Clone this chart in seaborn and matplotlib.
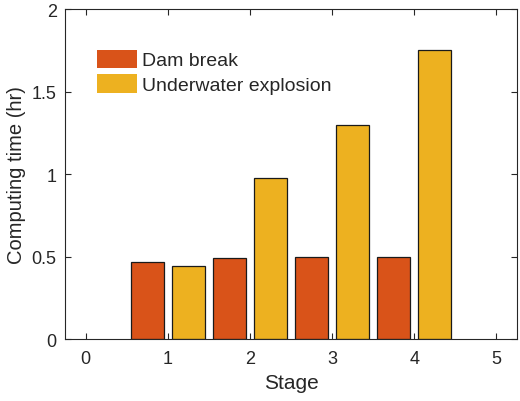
import matplotlib
matplotlib.use('Agg')
import matplotlib.pyplot as plt
import seaborn as sns
import pandas as pd

# Dados
stages = [1, 2, 3, 4]
dam_break = [0.468, 0.489, 0.495, 0.495]
underwater = [0.444, 0.978, 1.30, 1.753]
cases = ['Dam break', 'Underwater explosion']
cores = ['#D95319', '#EDB120']

df = pd.DataFrame({
    'Stage': stages * 2,
    'Time': dam_break + underwater,
    'Case': [cases[0]] * len(stages) + [cases[1]] * len(stages),
})

sns.set_style('white')
plt.rcParams['font.family'] = ['Liberation Sans', 'DejaVu Sans']

fig = plt.figure(figsize=(5.2, 4.02), dpi=100)
ax = fig.add_axes([0.125, 0.154, 0.869, 0.821])

sns.barplot(data=df, x='Stage', y='Time', hue='Case', hue_order=cases,
            palette=cores, native_scale=True, width=1.0, gap=0.2,
            edgecolor='#1a1a1a', linewidth=0.9, saturation=1, ax=ax,
            errorbar=None)

ax.set_xlim(-0.25, 5.25)
ax.set_ylim(0, 2)
ax.set_xticks(range(0, 6))
ax.set_yticks([0, 0.5, 1, 1.5, 2])
ax.set_yticklabels(['0', '0.5', '1', '1.5', '2'])
ax.set_xlabel('Stage', fontsize=15, color='#262626')
ax.set_ylabel('Computing time (hr)', fontsize=14.5, color='#262626')

for s in ax.spines.values():
    s.set_color('#262626')
    s.set_linewidth(0.8)
ax.tick_params(direction='in', length=4, width=0.8, color='#262626',
               labelcolor='#262626', labelsize=13,
               top=True, right=True, bottom=True, left=True)
ax.tick_params(axis='x', pad=8)
ax.tick_params(axis='y', pad=6)

leg = ax.legend(loc='upper left', bbox_to_anchor=(0.07, 0.877), frameon=False,
                fontsize=14, handlelength=2.06, handleheight=1.08,
                handletextpad=0.25, labelspacing=0.25, borderaxespad=0, borderpad=0)
for h in leg.legend_handles:
    h.set_edgecolor('none')
for t in leg.get_texts():
    t.set_color('#262626')

fig.savefig('out.png', dpi=100)
